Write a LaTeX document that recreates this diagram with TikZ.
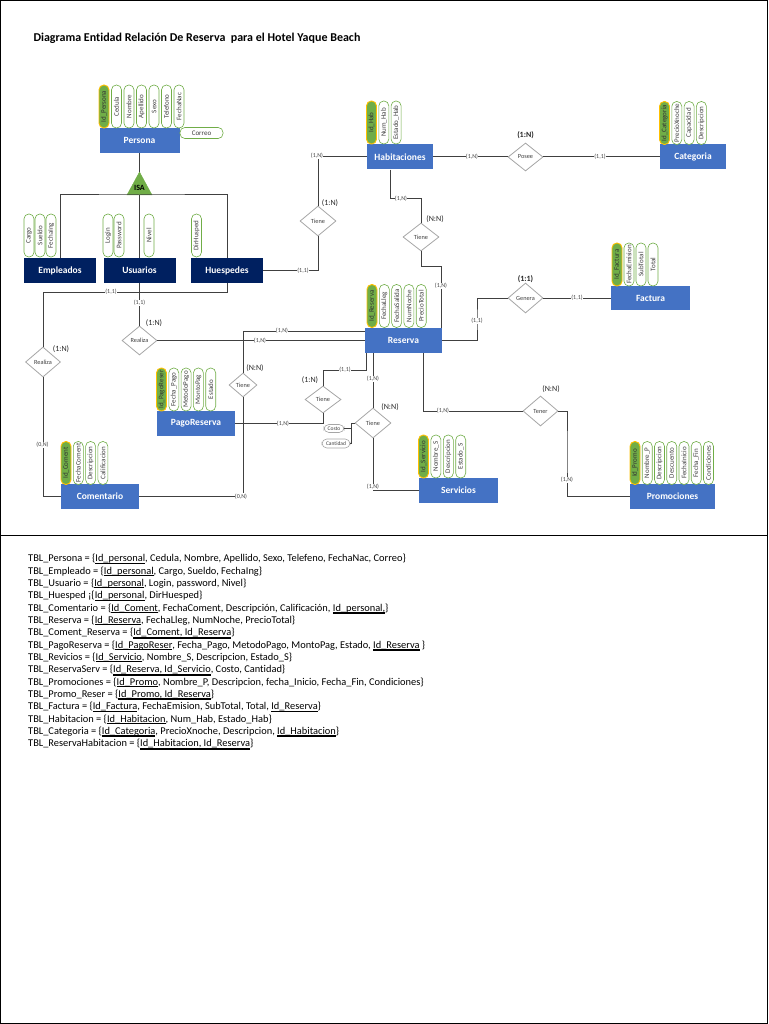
\documentclass[tikz,border=0pt]{standalone}
\usepackage{fontspec}
\setmainfont{Carlito}[Ligatures=NoCommon]
\usetikzlibrary{shapes.geometric,positioning}

\definecolor{entblue}{RGB}{68,114,196}
\definecolor{entnavy}{RGB}{0,32,96}
\definecolor{attgreen}{RGB}{112,173,71}
\definecolor{pkgold}{RGB}{255,192,0}
\definecolor{linegray}{RGB}{64,64,64}
\definecolor{relgray}{RGB}{166,166,166}

\newsavebox{\ulbox}
\newcommand{\pk}[1]{\sbox{\ulbox}{#1}\rlap{\rule[-1.5pt]{\wd\ulbox}{0.5pt}}\usebox{\ulbox}}
\newcommand{\fk}[1]{\sbox{\ulbox}{#1}\rlap{\rule[-1.3pt]{\wd\ulbox}{0.45pt}}\rlap{\rule[-2.4pt]{\wd\ulbox}{0.45pt}}\usebox{\ulbox}}
\newcommand{\attfont}{\fontsize{7}{7}\selectfont}

\begin{document}
\begin{tikzpicture}[x=1pt,y=-1pt,
	line/.style={draw=linegray,line width=1pt},
	entity/.style={rectangle,fill=entblue,text=white,font=\bfseries\fontsize{9.5}{10}\selectfont,inner sep=0,minimum height=25},
	subentity/.style={entity,fill=entnavy},
	attrbase/.style={rectangle,rounded corners=4.8,draw=attgreen,line width=0.6pt,fill=white,inner sep=0.5pt,font=\attfont,text=linegray},
	attr/.style={attrbase,rotate=90,minimum width=43,minimum height=10},
	pkattr/.style={attr,fill=attgreen,draw=pkgold,line width=0.9pt,text=black!80},
	rel/.style={diamond,draw=relgray,line width=0.8pt,fill=white,inner sep=0,font=\fontsize{6.3}{7}\selectfont,text=linegray},
	card/.style={fill=white,inner sep=0.4pt,font=\fontsize{6}{6}\selectfont,text=linegray},
	ratio/.style={inner sep=0,font=\fontsize{8}{8}\selectfont,text=black!85}]

	\useasboundingbox (0,0) rectangle (768,1024);

	% Frame of the page
	\draw[line width=1pt] (0.5,0.5) rectangle (767.5,1023.5);
	\draw[line width=1pt] (0,535.5) -- (768,535.5);

	% Title
	\node[anchor=west,font=\bfseries\fontsize{12}{14}\selectfont] (titulo) at (30,38)
		{Diagrama Entidad Relación De Reserva\ \ para el Hotel Yaque Beach};

	% Entities
	\node[entity,minimum width=80] (persona) at (139.5,140.5) {Persona};
	\node[subentity,minimum width=72] (emple) at (60,270.5) {Empleados};
	\node[subentity,minimum width=72] (usu) at (139.5,270.5) {Usuarios};
	\node[subentity,minimum width=72] (hues) at (227,270.5) {Huespedes};
	\node[entity,minimum width=66] (hab) at (400,157) {Habitaciones};
	\node[entity,minimum width=66] (cat) at (693,157) {Categoria};
	\node[entity,minimum width=77] (res) at (403.5,340.5) {Reserva};
	\node[entity,minimum width=79,minimum height=24] (fact) at (650.5,298) {Factura};
	\node[entity,minimum width=78] (pago) at (196,423.5) {PagoReserva};
	\node[entity,minimum width=79] (serv) at (458.5,490.5) {Servicios};
	\node[entity,minimum width=85] (promo) at (672.5,496.5) {Promociones};
	\node[entity,minimum width=78] (coment) at (100,496.5) {Comentario};

	% Attributes of Persona
	\node[pkattr] (persona-pk) at (104,106.5) {Id\_Persona};
	\foreach \t [count=\i] in {Cedula,Nombre,Apellido,Sexo,Telefono,FechaNac}
		\node[attr] (persona-\i) at ({104+12.5*\i},106.5) {\t};
	\node[attrbase,minimum width=43,minimum height=11] (correo) at (201.5,133) {Correo};

	% Attributes of the subtypes
	\foreach \t [count=\i] in {Cargo,Sueldo,FechaIng}
		\node[attr] (emple-\i) at ({18+11*\i},235.5) {\t};
	\node[attr] (usu-1) at (108,235.5) {Login};
	\node[attr] (usu-2) at (119,235.5) {Password};
	\node[attr] (usu-3) at (149,235.5) {Nivel};
	\node[attr] (hues-1) at (196.5,235.5) {DirHusped};

	% Attributes of Habitaciones and Categoria
	\node[pkattr] (hab-pk) at (371.5,122.5) {Id\_Hab};
	\foreach \t [count=\i] in {Num\_Hab,Estado\_Hab}
		\node[attr] (hab-\i) at ({371.5+12.3*\i},122.5) {\t};
	\node[pkattr] (cat-pk) at (664.5,123) {Id\_Categoria};
	\foreach \t [count=\i] in {PrecioXnoche,Capacidad,Descripcion}
		\node[attr] (cat-\i) at ({664.5+12.3*\i},123) {\t};

	% Attributes of Reserva and Factura
	\node[pkattr] (res-pk) at (372,306) {Id\_Reserva};
	\foreach \t [count=\i] in {FechaLleg,FechaSalida,NumNoche,PrecioTotal}
		\node[attr] (res-\i) at ({372+12.3*\i},306) {\t};
	\node[pkattr] (fact-pk) at (617,264.5) {Id\_Factura};
	\foreach \t [count=\i] in {FechaEmision,SubTotal,Total}
		\node[attr] (fact-\i) at ({617+12*\i},264.5) {\t};

	% Attributes of PagoReserva, Servicios, Promociones, Comentario
	\node[pkattr] (pago-pk) at (161.5,389.5) {Id\_PagoReser};
	\foreach \t [count=\i] in {Fecha\_Pago,MetodoPago,MontoPag,Estado}
		\node[attr] (pago-\i) at ({161.5+12.3*\i},389.5) {\t};
	\node[pkattr] (serv-pk) at (423.5,456.5) {Id\_Servicio};
	\foreach \t [count=\i] in {Nombre\_S,Descripcion,Estado\_S}
		\node[attr] (serv-\i) at ({423.5+12.4*\i},456.5) {\t};
	\node[pkattr] (promo-pk) at (635,463) {Id\_Promo};
	\foreach \t [count=\i] in {Nombre\_P,Descripcion,Descuento,FechaInicio,Fecha\_Fin,Condiciones}
		\node[attr] (promo-\i) at ({635+12.25*\i},463) {\t};
	\node[pkattr] (coment-pk) at (66,463) {Id\_Coment};
	\foreach \t [count=\i] in {FechaComent,Descripcion,Calificacion}
		\node[attr] (coment-\i) at ({66+12.3*\i},463) {\t};

	% ISA triangle
	\filldraw[fill=attgreen,draw=attgreen] (139.5,172) -- (127,195) -- (152,195) -- cycle;
	\node[inner sep=0,font=\bfseries\fontsize{8}{8}\selectfont] (isa) at (139.5,188) {ISA};
	\coordinate (isatop) at (139.5,172);
	\coordinate (isabase) at (139.5,195);

	% Relationships
	\node[rel,minimum width=36,minimum height=30] (tieneHH) at (318,221) {Tiene};
	\node[rel,minimum width=36,minimum height=28] (tieneHR) at (421,237) {Tiene};
	\node[rel,minimum width=35,minimum height=28] (posee) at (525.5,157) {Posee};
	\node[rel,minimum width=35,minimum height=30] (genera) at (525.5,298) {Genera};
	\node[rel,minimum width=35,minimum height=30] (realizaC) at (43,362) {Realiza};
	\node[rel,minimum width=35,minimum height=29] (realizaR) at (139.5,340.5) {Realiza};
	\node[rel,minimum width=28,minimum height=24] (tieneCR) at (243,385) {Tiene};
	\node[rel,minimum width=36,minimum height=27] (tienePR) at (323,399.5) {Tiene};
	\node[rel,minimum width=36,minimum height=30] (tieneRS) at (373,423) {Tiene};
	\node[rel,minimum width=35,minimum height=30] (tener) at (540.5,411) {Tener};

	% Attributes of the Reserva-Servicios relation
	\node[attrbase,draw=relgray,minimum width=20,minimum height=8,font=\fontsize{5.5}{6}\selectfont] (costo) at (334,428.5) {Costo};
	\node[attrbase,draw=relgray,minimum width=28,minimum height=9,font=\fontsize{5.5}{6}\selectfont] (cantidad) at (336,443.5) {Cantidad};

	% Corner points of the connectors
	\coordinate (hr1) at (390,199);
	\coordinate (hr2) at (441,266);
	\coordinate (rg) at (477,320);
	\coordinate (hc) at (43,292);
	\coordinate (pr1) at (366,370);
	\coordinate (cc) at (351,423);
	\coordinate (rt) at (423,411);
	\coordinate (tp) at (567,450);

	% Persona ISA
	\draw[line] (persona.south) -- (isatop);
	\draw[line] (emple.north) |- (isabase) -| (hues.north);
	\draw[line] (isabase) -- (usu.north);

	% Huespedes - Habitaciones
	\draw[line] (hues.east) -| (tieneHH.south);
	\draw[line] (tieneHH.north) |- (hab.west);

	% Habitaciones - Categoria
	\draw[line] (hab.east) -- (posee.west);
	\draw[line] (posee.east) -- (cat.west);

	% Habitaciones - Reserva
	\draw[line] ([xshift=-10pt]hab.south) -- (hr1) -| (tieneHR.north);
	\draw[line] (tieneHR.south) |- (hr2) -- (hr2 |- res.north);

	% Reserva - Factura
	\draw[line] (res.east) -| (rg) |- (genera.west);
	\draw[line] (genera.east) -- (fact.west);

	% Huespedes - Comentario
	\draw[line] (hues.south) |- (hc) -- (realizaC.north);
	\draw[line] (realizaC.south) |- (coment.west);

	% Usuarios - Reserva
	\draw[line] (usu.south) -- (realizaR.north);
	\draw[line] (realizaR.east) -- (res.west);

	% Comentario - Reserva
	\draw[line] (coment.east) -| (tieneCR.south);
	\draw[line] (tieneCR.north) |- ([yshift=9.5pt]res.west);

	% PagoReserva - Reserva
	\draw[line] (pago.east) -| (tienePR.south);
	\draw[line] (tienePR.north) |- (pr1) -- (pr1 |- res.south);

	% Reserva - Servicios
	\draw[line] (tieneRS.north) -- (tieneRS.north |- res.south);
	\draw[line] (tieneRS.south) |- (serv.west);
	\draw[line] (tieneRS.west) -- (cc) |- (cantidad.east);
	\draw[line] (costo.east) -- (costo.east -| cc);

	% Reserva - Promociones
	\draw[line] (rt |- res.south) |- (tener.west);
	\draw[line] (tener.east) -| (tp) |- (promo.west);

	% Cardinalities
	\node[card] (c-hues-hh) at (303,270.5) {(1,1)};
	\node[card] (c-hab-hh) at (317,156) {(1,N)};
	\node[card] (c-hab-po) at (472,157) {(1,N)};
	\node[card] (c-cat-po) at (600,157) {(1,1)};
	\node[card] (c-hab-hr) at (401,198.5) {(1,N)};
	\node[card] (c-res-hr) at (441,286) {(1,N)};
	\node[card] (c-res-ge) at (477,321) {(1,1)};
	\node[card] (c-fact-ge) at (577,298) {(1,1)};
	\node[card] (c-hues-rc) at (111,292) {(1,1)};
	\node[card] (c-usu-rr) at (139.5,303) {(1,1)};
	\node[card] (c-com-rc) at (42.5,445) {(0,N)};
	\node[card] (c-res-rr) at (260,340.5) {(1,N)};
	\node[card] (c-res-cr) at (282,331) {(1,N)};
	\node[card] (c-com-cr) at (241,496.5) {(0,N)};
	\node[card] (c-pago-pr) at (283,423.5) {(1,N)};
	\node[card] (c-res-pr) at (345,370) {(1,1)};
	\node[card] (c-res-rs) at (373,379) {(1,N)};
	\node[card] (c-serv-rs) at (373,487) {(1,N)};
	\node[card] (c-res-te) at (443,411) {(1,N)};
	\node[card] (c-promo-te) at (567,480) {(1,N)};

	% Relation ratios
	\node[ratio] (r-hh) at (330,203) {(1:N)};
	\node[ratio] (r-hr) at (435,219) {(N:N)};
	\node[ratio,font=\bfseries\fontsize{8}{8}\selectfont] (r-po) at (525.5,135) {(1:N)};
	\node[ratio,font=\bfseries\fontsize{8}{8}\selectfont] (r-ge) at (525.5,279) {(1:1)};
	\node[ratio] (r-rr) at (154,323) {(1:N)};
	\node[ratio] (r-rc) at (61,349) {(1:N)};
	\node[ratio] (r-cr) at (255,368) {(N:N)};
	\node[ratio] (r-pr) at (310,380) {(1:N)};
	\node[ratio] (r-rs) at (390,407) {(N:N)};
	\node[ratio] (r-te) at (551,389) {(N:N)};

	% Tables
	\node[anchor=north west,align=left,inner sep=0,font=\fontsize{10.4}{12.33}\selectfont] (tablas) at (28,554) {%
		TBL\_Persona = \{\pk{Id\_personal}, Cedula, Nombre, Apellido, Sexo, Telefeno, FechaNac, Correo\}\\
		TBL\_Empleado = \{\pk{Id\_personal}, Cargo, Sueldo, FechaIng\}\\
		TBL\_Usuario = \{\pk{Id\_personal}, Login, password, Nivel\}\\
		TBL\_Huesped ¡\{\pk{Id\_personal}, DirHuesped\}\\
		TBL\_Comentario = \{\pk{Id\_Coment}, FechaComent, Descripción, Calificación, \fk{Id\_personal,}\}\\
		TBL\_Reserva = \{\pk{Id\_Reserva}, FechaLleg, NumNoche, PrecioTotal\}\\
		TBL\_Coment\_Reserva = \{\fk{Id\_Coment, Id\_Reserva}\}\\
		TBL\_PagoReserva = \{\pk{Id\_PagoReser}, Fecha\_Pago, MetodoPago, MontoPag, Estado, \fk{Id\_Reserva} \}\\
		TBL\_Revicios = \{\pk{Id\_Servicio}, Nombre\_S, Descripcion, Estado\_S\}\\
		TBL\_ReservaServ = \{\fk{Id\_Reserva, Id\_Servicio}, Costo, Cantidad\}\\
		TBL\_Promociones = \{\pk{Id\_Promo}, Nombre\_P, Descripcion, fecha\_Inicio, Fecha\_Fin, Condiciones\}\\
		TBL\_Promo\_Reser = \{\fk{Id\_Promo, Id\_Reserva}\}\\
		TBL\_Factura = \{\pk{Id\_Factura}, FechaEmision, SubTotal, Total, \pk{Id\_Reserva}\}\\
		TBL\_Habitacion = \{\pk{Id\_Habitacion}, Num\_Hab, Estado\_Hab\}\\
		TBL\_Categoria = \{\fk{Id\_Categoria}, PrecioXnoche, Descripcion, \fk{Id\_Habitacion}\}\\
		TBL\_ReservaHabitacion = \{\fk{Id\_Habitacion, Id\_Reserva}\}};

\end{tikzpicture}
\end{document}
